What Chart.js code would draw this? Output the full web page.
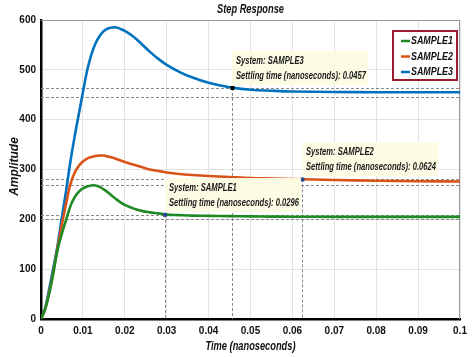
<!DOCTYPE html>
<html>
<head>
<meta charset="utf-8">
<script src="https://cdn.jsdelivr.net/npm/chart.js@4.4.1/dist/chart.umd.min.js"></script>
<style>
html,body{margin:0;padding:0;background:#fff;}
canvas{display:block;}
</style>
</head>
<body>
<canvas id="c" width="474" height="357"></canvas>
<script>
// ---- data ----
const seriesLabels = ['SAMPLE1', 'SAMPLE2', 'SAMPLE3'];
const seriesColors = ['#1f8a24', '#D95319', '#0072BD'];
const timeValues = [0, 0.001, 0.002, 0.003, 0.004, 0.005, 0.006, 0.007, 0.008, 0.009, 0.010,
  0.011, 0.012, 0.013, 0.014, 0.015, 0.016, 0.017, 0.018, 0.019, 0.020, 0.022, 0.024, 0.026,
  0.028, 0.030, 0.033, 0.036, 0.040, 0.045, 0.050, 0.055, 0.060, 0.070, 0.080, 0.090, 0.100];
const sample1Values = [0, 20, 52, 95, 140, 172, 199, 226, 244, 255, 262,
  266, 268, 268, 265, 260, 254, 247, 240, 234, 229, 222, 217, 214,
  212, 209.5, 208.5, 207.5, 207, 206.5, 206, 205.5, 205.3, 205, 205, 205, 205];
const sample2Values = [0, 20, 55, 97, 145, 190, 232, 270, 293, 307, 316,
  322, 325, 327, 328, 328, 326, 324, 321, 318, 315, 310, 305, 300,
  297, 294, 291, 289, 287, 285, 283, 282, 281, 279, 277.5, 276.5, 276];
const sample3Values = [0, 22, 62, 105, 150, 205, 258, 315, 365, 410, 455,
  498, 530, 553, 568, 578, 583, 585, 585, 582, 578, 567, 552, 536,
  522, 510, 496, 485, 474, 465, 460, 458, 456.5, 455.5, 455, 455, 455];
const settleTimes = [0.0296, 0.0624, 0.0457];
const settleValues = [209, 280, 463.5];
const bandHigh = [209, 280.5, 464];
const bandLow = [201, 269.5, 446];
const xTickLabels = ['0', '0.01', '0.02', '0.03', '0.04', '0.05', '0.06', '0.07', '0.08', '0.09', '0.1'];
const yTickLabels = ['0', '100', '200', '300', '400', '500', '600'];
const chartTitle = 'Step Response';
const xTitle = 'Time (nanoseconds)';
const yTitle = 'Amplitude';

const seriesValues = [sample1Values, sample2Values, sample3Values];
const FONT = "'Liberation Sans', Arial, sans-serif";

const datasets = seriesLabels.map((lab, i) => ({
  label: lab,
  data: timeValues.map((t, j) => ({x: t, y: seriesValues[i][j]})),
  borderColor: seriesColors[i],
  backgroundColor: seriesColors[i],
  borderWidth: 2.6,
  pointRadius: 0,
  tension: 0.35,
  fill: false
}));

function narrow(ctx, text, x, y, sx, align) {
  ctx.save();
  ctx.translate(x, y);
  ctx.scale(sx, 1);
  ctx.textAlign = align || 'left';
  ctx.fillText(text, 0, 0);
  ctx.restore();
}

const overlay = {
  id: 'overlay',
  beforeDatasetsDraw(chart) {
    const {ctx, chartArea: a, scales: {x, y}} = chart;
    ctx.save();
    ctx.strokeStyle = '#9a9a9a';
    ctx.lineWidth = 1;
    ctx.beginPath();
    ctx.moveTo(a.left, a.top + 0.5); ctx.lineTo(a.right - 0.5, a.top + 0.5); ctx.lineTo(a.right - 0.5, a.bottom);
    ctx.stroke();
    ctx.strokeStyle = '#8a8a8a';
    ctx.setLineDash([3, 2]);
    for (let i = 0; i < seriesLabels.length; i++) {
      [bandHigh[i], bandLow[i]].forEach(v => {
        const py = Math.round(y.getPixelForValue(v)) + 0.5;
        ctx.beginPath(); ctx.moveTo(a.left, py); ctx.lineTo(a.right, py); ctx.stroke();
      });
      const px = Math.round(x.getPixelForValue(settleTimes[i])) + 0.5;
      ctx.beginPath(); ctx.moveTo(px, y.getPixelForValue(settleValues[i])); ctx.lineTo(px, a.bottom); ctx.stroke();
    }
    ctx.restore();
  },
  afterDatasetsDraw(chart) {
    const {ctx, chartArea: a, scales: {x, y}} = chart;
    ctx.save();
    for (let i = 0; i < seriesLabels.length; i++) {
      const px = x.getPixelForValue(settleTimes[i]);
      const py = y.getPixelForValue(settleValues[i]);
      ctx.fillStyle = i === 2 ? '#000' : '#2a4a8a';
      ctx.fillRect(px - 2, py - 2, 4, 4);
    }
    ctx.font = "italic bold 11px " + FONT;
    ctx.textBaseline = 'middle';
    for (let i = 0; i < seriesLabels.length; i++) {
      const px = x.getPixelForValue(settleTimes[i]);
      const py = y.getPixelForValue(settleValues[i]);
      const l1 = 'System: ' + seriesLabels[i];
      const l2 = 'Settling time (nanoseconds): ' + settleTimes[i].toFixed(4);
      const w = 136, h = 34;
      const bx = Math.round(px), by = Math.round(py) - 3 - h;
      ctx.fillStyle = 'rgba(252,251,226,0.97)';
      ctx.fillRect(bx, by, w, h);
      ctx.fillStyle = '#1a1a1a';
      const sx = 130 / ctx.measureText(l2).width;
      narrow(ctx, l1, bx + 4, by + 10, sx);
      narrow(ctx, l2, bx + 4, by + 25, sx);
    }
    // legend
    const lx = 393, ly = 31, lw = 64, lh = 49;
    ctx.fillStyle = '#fff';
    ctx.fillRect(lx, ly, lw, lh);
    ctx.strokeStyle = '#9b1b30';
    ctx.lineWidth = 2;
    ctx.strokeRect(lx, ly, lw, lh);
    ctx.font = "italic bold 11px " + FONT;
    for (let i = 0; i < seriesLabels.length; i++) {
      const ey = ly + 10 + i * 15.5;
      ctx.strokeStyle = seriesColors[i];
      ctx.lineWidth = 2.5;
      ctx.beginPath(); ctx.moveTo(lx + 8, ey); ctx.lineTo(lx + 17, ey); ctx.stroke();
      ctx.fillStyle = '#111';
      const sx = 42 / ctx.measureText(seriesLabels[i]).width;
      narrow(ctx, seriesLabels[i], lx + 18, ey, sx);
    }
    // titles
    ctx.fillStyle = '#111';
    ctx.font = "italic bold 13px " + FONT;
    narrow(ctx, chartTitle, (a.left + a.right) / 2, 9, 67 / ctx.measureText(chartTitle).width, 'center');
    narrow(ctx, xTitle, (a.left + a.right) / 2, 346, 90 / ctx.measureText(xTitle).width, 'center');
    ctx.font = "italic bold 12px " + FONT;
    ctx.save();
    ctx.translate(15, (a.top + a.bottom) / 2 - 3);
    ctx.rotate(-Math.PI / 2);
    ctx.textAlign = 'center';
    ctx.fillText(yTitle, 0, 0);
    ctx.restore();
    ctx.restore();
  }
};

new Chart(document.getElementById('c'), {
  type: 'line',
  data: {datasets},
  options: {
    responsive: false,
    devicePixelRatio: 1,
    animation: false,
    layout: {padding: {top: 20, right: 14, left: 0, bottom: 0}},
    plugins: {legend: {display: false}, tooltip: {enabled: false}, title: {display: false}},
    scales: {
      x: {
        type: 'linear', min: 0, max: 0.1,
        afterFit(s) { s.height = 38; },
        ticks: {
          stepSize: 0.01, padding: 6, color: '#111', maxRotation: 0, autoSkip: false,
          font: {family: FONT, size: 10, weight: 'bold'},
          callback: (v) => xTickLabels[Math.round(v / 0.01)]
        },
        grid: {color: '#e2e2e2', drawTicks: false},
        border: {color: '#000', width: 2.5},
        title: {display: false}
      },
      y: {
        min: 0, max: 600,
        afterFit(s) { s.width = 41; },
        ticks: {
          stepSize: 100, padding: 5, color: '#111',
          font: {family: FONT, size: 10, weight: 'bold'},
          callback: (v) => yTickLabels[Math.round(v / 100)]
        },
        grid: {color: '#e2e2e2', drawTicks: false},
        border: {color: '#000', width: 2.5},
        title: {display: false}
      }
    }
  },
  plugins: [overlay]
});
</script>
</body>
</html>
